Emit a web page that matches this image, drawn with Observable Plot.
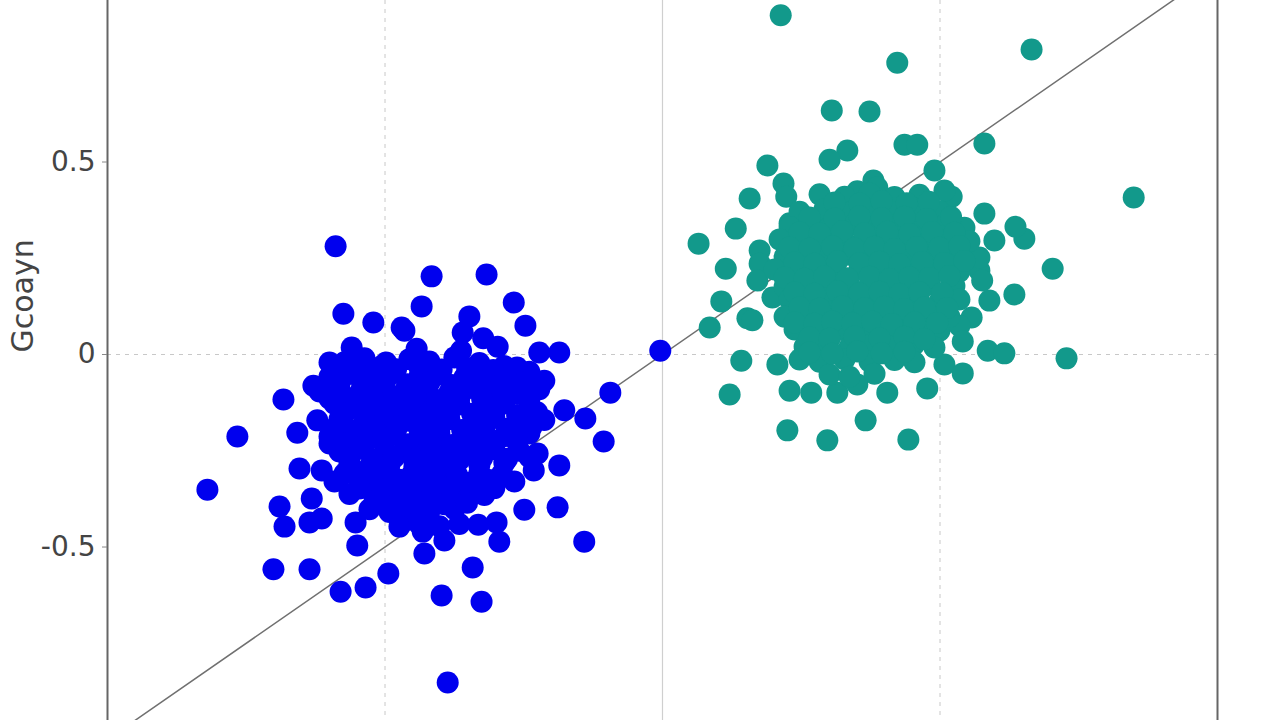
<!DOCTYPE html>
<html>
<head>
<meta charset="utf-8">
<script src="https://cdn.jsdelivr.net/npm/d3@7"></script>
<script src="https://cdn.jsdelivr.net/npm/@observablehq/plot@0.6"></script>
<style>
  html, body { margin: 0; padding: 0; background: #fff; }
  #chart { width: 1280px; height: 720px; overflow: hidden; }
</style>
</head>
<body>
<div id="chart"></div>
<script>
// y-axis ticks and label
const yTicks = [-0.5, 0, 0.5];
const yLabel = "Gcoayn";
const dashedX = [-0.5, 0.5];
const solidX = [0];
const dashedY = [0];
const frameX = [-1, 1];
const diagonal = [-1, 1];

// Group A (blue) points [x, y]
const groupA = [
  [-0.589,0.281],[-0.416,0.203],[-0.317,0.208],[-0.575,0.106],[-0.521,0.083],[-0.434,0.125],
  [-0.348,0.099],[-0.268,0.135],[-0.247,0.075],[-0.560,0.018],[-0.600,-0.021],[-0.465,0.062],
  [-0.360,0.057],[-0.323,0.042],[-0.297,0.020],[-0.222,0.005],[-0.186,0.005],[-0.094,-0.099],
  [-0.004,0.010],[-0.766,-0.213],[-0.820,-0.351],[-0.683,-0.117],[-0.658,-0.203],[-0.629,-0.081],
  [-0.654,-0.296],[-0.614,-0.301],[-0.690,-0.395],[-0.681,-0.447],[-0.636,-0.436],[-0.614,-0.426],
  [-0.550,-0.496],[-0.701,-0.558],[-0.636,-0.558],[-0.494,-0.569],[-0.580,-0.616],[-0.535,-0.605],
  [-0.398,-0.626],[-0.387,-0.852],[-0.326,-0.642],[-0.342,-0.553],[-0.294,-0.486],[-0.141,-0.486],
  [-0.189,-0.397],[-0.249,-0.403],[-0.186,-0.288],[-0.232,-0.301],[-0.139,-0.166],[-0.106,-0.226],
  [-0.177,-0.145],[-0.213,-0.068],[-0.265,-0.068],[-0.263,-0.203],[-0.299,-0.436],[-0.332,-0.442],
  [-0.393,-0.483],[-0.432,-0.460],[-0.470,-0.434],[-0.553,-0.436],[-0.600,-0.231],[-0.560,-0.197],
  [-0.622,-0.171],[-0.429,-0.517],[-0.632,-0.374],[-0.225,-0.257],[-0.566,-0.050],[-0.524,-0.034],
  [-0.498,-0.021],[-0.470,0.070],[-0.363,0.010],[-0.443,0.015],
  // dense core
  [-0.573,-0.020],[-0.537,-0.010],[-0.501,-0.025],[-0.456,-0.012],[-0.420,-0.018],[-0.375,-0.008],[-0.330,-0.022],[-0.285,-0.030],
  [-0.600,-0.058],[-0.564,-0.050],[-0.519,-0.062],[-0.483,-0.048],[-0.438,-0.057],[-0.402,-0.052],[-0.357,-0.060],[-0.312,-0.049],[-0.267,-0.058],[-0.240,-0.045],
  [-0.618,-0.096],[-0.582,-0.090],[-0.546,-0.101],[-0.501,-0.088],[-0.465,-0.097],[-0.429,-0.092],[-0.384,-0.099],[-0.348,-0.087],[-0.303,-0.095],[-0.258,-0.102],[-0.222,-0.090],
  [-0.591,-0.128],[-0.555,-0.137],[-0.519,-0.129],[-0.474,-0.134],[-0.438,-0.126],[-0.402,-0.139],[-0.366,-0.130],[-0.321,-0.135],[-0.285,-0.127],[-0.240,-0.138],
  [-0.582,-0.168],[-0.537,-0.175],[-0.501,-0.166],[-0.456,-0.172],[-0.420,-0.179],[-0.384,-0.168],[-0.339,-0.174],[-0.303,-0.165],[-0.258,-0.177],[-0.213,-0.170],
  [-0.600,-0.213],[-0.555,-0.206],[-0.519,-0.215],[-0.483,-0.208],[-0.438,-0.211],[-0.402,-0.204],[-0.357,-0.216],[-0.321,-0.207],[-0.285,-0.212],[-0.240,-0.205],
  [-0.582,-0.252],[-0.546,-0.245],[-0.501,-0.255],[-0.465,-0.247],[-0.429,-0.251],[-0.384,-0.243],[-0.348,-0.254],[-0.303,-0.246],[-0.258,-0.250],
  [-0.564,-0.284],[-0.528,-0.292],[-0.492,-0.286],[-0.447,-0.290],[-0.411,-0.283],[-0.375,-0.293],[-0.330,-0.287],[-0.285,-0.281],
  [-0.591,-0.330],[-0.546,-0.322],[-0.510,-0.331],[-0.474,-0.325],[-0.429,-0.329],[-0.393,-0.321],[-0.348,-0.333],[-0.312,-0.326],[-0.267,-0.330],
  [-0.564,-0.362],[-0.519,-0.370],[-0.483,-0.364],[-0.447,-0.368],[-0.402,-0.361],[-0.366,-0.371],[-0.321,-0.365],
  [-0.528,-0.402],[-0.492,-0.409],[-0.456,-0.404],[-0.420,-0.407],[-0.375,-0.401],
  [-0.474,-0.447],[-0.438,-0.441],[-0.402,-0.446],[-0.366,-0.440],
  // interleaved core
  [-0.555,-0.036],[-0.480,-0.038],[-0.438,-0.033],[-0.398,-0.039],[-0.352,-0.035],[-0.305,-0.040],[-0.262,-0.034],
  [-0.582,-0.075],[-0.541,-0.078],[-0.500,-0.072],[-0.460,-0.077],[-0.420,-0.073],[-0.380,-0.079],[-0.335,-0.074],[-0.290,-0.076],[-0.250,-0.072],
  [-0.600,-0.114],[-0.564,-0.117],[-0.523,-0.111],[-0.483,-0.116],[-0.447,-0.112],[-0.406,-0.118],[-0.366,-0.113],[-0.325,-0.115],[-0.280,-0.110],[-0.240,-0.117],
  [-0.573,-0.153],[-0.537,-0.150],[-0.496,-0.156],[-0.456,-0.151],[-0.420,-0.155],[-0.384,-0.149],[-0.343,-0.154],[-0.303,-0.152],[-0.262,-0.157],[-0.226,-0.150],
  [-0.591,-0.192],[-0.519,-0.195],[-0.478,-0.189],[-0.438,-0.194],[-0.402,-0.190],[-0.361,-0.196],[-0.321,-0.191],[-0.280,-0.193],[-0.236,-0.188],
  [-0.573,-0.231],[-0.537,-0.234],[-0.501,-0.228],[-0.460,-0.233],[-0.420,-0.229],[-0.379,-0.235],[-0.339,-0.230],[-0.303,-0.232],[-0.262,-0.227],
  [-0.564,-0.270],[-0.523,-0.273],[-0.483,-0.267],[-0.447,-0.272],[-0.406,-0.268],[-0.366,-0.274],[-0.325,-0.269],[-0.280,-0.271],[-0.240,-0.266],
  [-0.573,-0.309],[-0.528,-0.312],[-0.492,-0.306],[-0.451,-0.311],[-0.411,-0.307],[-0.370,-0.313],[-0.330,-0.308],[-0.289,-0.310],
  [-0.546,-0.348],[-0.505,-0.351],[-0.465,-0.345],[-0.424,-0.350],[-0.384,-0.346],[-0.343,-0.352],[-0.303,-0.347],
  [-0.505,-0.387],[-0.465,-0.390],[-0.429,-0.384],[-0.393,-0.389],[-0.352,-0.385]
];

// Group B (teal) points [x, y]
const groupB = [
  [0.213,0.881],[0.423,0.758],[0.665,0.792],[0.305,0.634],[0.373,0.631],[0.436,0.545],[0.459,0.545],
  [0.580,0.548],[0.333,0.530],[0.301,0.506],[0.189,0.491],[0.849,0.408],[0.157,0.405],[0.218,0.444],
  [0.223,0.410],[0.490,0.478],[0.065,0.288],[0.132,0.327],[0.114,0.223],[0.175,0.270],[0.106,0.138],
  [0.153,0.094],[0.085,0.070],[0.142,-0.016],[0.121,-0.104],[0.225,-0.197],[0.297,-0.223],[0.366,-0.171],
  [0.443,-0.221],[0.207,-0.026],[0.229,-0.094],[0.268,-0.099],[0.315,-0.099],[0.351,-0.078],[0.405,-0.099],
  [0.477,-0.088],[0.508,-0.026],[0.541,-0.049],[0.586,0.010],[0.616,0.003],[0.728,-0.010],[0.703,0.223],
  [0.634,0.156],[0.652,0.301],[0.636,0.332],[0.580,0.366],[0.598,0.296],[0.571,0.218],[0.589,0.140],
  [0.557,0.096],[0.499,0.062],[0.535,0.075],[0.571,0.252],[0.576,0.192],[0.541,0.034],[0.490,0.366],
  [0.521,0.410],[0.508,0.426],[0.351,0.424],[0.380,0.452],[0.387,0.434],[0.289,0.341],[0.229,0.341],
  [0.175,0.236],[0.171,0.192],[0.198,0.148],[0.162,0.089],
  // dense core
  [0.283,0.416],[0.328,0.410],[0.373,0.418],[0.418,0.409],[0.463,0.415],
  [0.247,0.371],[0.292,0.378],[0.337,0.369],[0.373,0.376],[0.418,0.370],[0.454,0.379],[0.499,0.372],
  [0.229,0.331],[0.265,0.338],[0.301,0.330],[0.346,0.337],[0.382,0.332],[0.427,0.339],[0.463,0.330],[0.508,0.336],[0.544,0.329],
  [0.211,0.299],[0.247,0.292],[0.283,0.300],[0.328,0.294],[0.364,0.298],[0.400,0.291],[0.436,0.299],[0.481,0.293],[0.517,0.301],[0.553,0.294],
  [0.220,0.254],[0.256,0.260],[0.292,0.253],[0.337,0.259],[0.373,0.255],[0.409,0.261],[0.445,0.252],[0.490,0.258],[0.526,0.255],
  [0.202,0.221],[0.238,0.214],[0.274,0.220],[0.310,0.216],[0.355,0.222],[0.391,0.213],[0.427,0.219],[0.463,0.215],[0.499,0.221],[0.535,0.216],
  [0.220,0.176],[0.256,0.182],[0.292,0.175],[0.337,0.180],[0.373,0.177],[0.409,0.183],[0.445,0.174],[0.481,0.181],[0.526,0.178],
  [0.229,0.143],[0.265,0.136],[0.301,0.142],[0.346,0.138],[0.382,0.144],[0.418,0.135],[0.454,0.141],[0.499,0.137],[0.535,0.143],
  [0.220,0.098],[0.256,0.104],[0.292,0.097],[0.328,0.103],[0.364,0.099],[0.409,0.105],[0.445,0.096],[0.481,0.102],[0.517,0.098],
  [0.238,0.065],[0.274,0.058],[0.319,0.064],[0.355,0.060],[0.391,0.066],[0.427,0.057],[0.463,0.063],
  [0.256,0.020],[0.292,0.026],[0.337,0.019],[0.373,0.025],[0.409,0.021],[0.454,0.027],[0.490,0.018],
  [0.247,-0.013],[0.283,-0.019],[0.328,-0.012],[0.373,-0.018],[0.418,-0.014],[0.454,-0.020],
  [0.301,-0.052],[0.337,-0.058],[0.382,-0.050],
  // interleaved core
  [0.310,0.395],[0.355,0.392],[0.395,0.398],[0.440,0.393],[0.480,0.397],
  [0.265,0.356],[0.310,0.353],[0.355,0.359],[0.395,0.354],[0.436,0.358],[0.476,0.352],[0.520,0.357],
  [0.247,0.317],[0.283,0.314],[0.324,0.320],[0.364,0.315],[0.405,0.319],[0.445,0.313],[0.486,0.318],[0.526,0.316],
  [0.229,0.278],[0.265,0.275],[0.306,0.281],[0.346,0.276],[0.382,0.280],[0.418,0.274],[0.458,0.279],[0.499,0.277],[0.535,0.282],
  [0.238,0.239],[0.274,0.236],[0.315,0.242],[0.355,0.237],[0.391,0.241],[0.427,0.235],[0.468,0.240],[0.508,0.238],[0.544,0.243],
  [0.220,0.200],[0.256,0.197],[0.292,0.203],[0.333,0.198],[0.373,0.202],[0.409,0.196],[0.445,0.201],[0.481,0.199],[0.517,0.204],
  [0.238,0.161],[0.274,0.158],[0.315,0.164],[0.355,0.159],[0.391,0.163],[0.427,0.157],[0.463,0.162],[0.504,0.160],
  [0.247,0.122],[0.283,0.119],[0.324,0.125],[0.364,0.120],[0.400,0.124],[0.436,0.118],[0.472,0.123],[0.513,0.121],
  [0.238,0.083],[0.274,0.080],[0.306,0.086],[0.342,0.081],[0.378,0.085],[0.413,0.079],[0.454,0.084],[0.495,0.082],
  [0.265,0.044],[0.301,0.041],[0.346,0.047],[0.391,0.042],[0.436,0.046],[0.472,0.040],
  [0.265,0.005],[0.306,0.002],[0.351,0.008],[0.395,0.003],[0.436,0.007]
];

const chart = Plot.plot({
  width: 1280,
  height: 720,
  marginLeft: 107,
  marginRight: 63,
  marginTop: 0,
  marginBottom: 0,
  style: { fontFamily: "DejaVu Sans, sans-serif", background: "#fff", overflow: "visible" },
  x: { domain: [-1, 1], axis: null },
  y: { domain: [-0.9506, 0.9195] },
  marks: [
    Plot.ruleX(dashedX, { stroke: "#c8c8c8", strokeWidth: 1, strokeDasharray: "4,5" }),
    Plot.ruleY(dashedY, { stroke: "#c8c8c8", strokeWidth: 1, strokeDasharray: "4,5" }),
    Plot.ruleX(solidX, { stroke: "#cfcfcf", strokeWidth: 1.2 }),
    Plot.line(diagonal, { x: d => d, y: d => d, stroke: "#707070", strokeWidth: 1.5, clip: true }),
    Plot.dot(groupA, { x: d => d[0], y: d => d[1], r: 11, fill: "#0000ee", stroke: "none" }),
    Plot.dot(groupB, { x: d => d[0], y: d => d[1], r: 11, fill: "#12998b", stroke: "none" }),
    Plot.ruleX(frameX, { stroke: "#666", strokeWidth: 2 }),
    Plot.axisY({ ticks: yTicks, tickFormat: d => String(d), tickSize: 5, tickPadding: 7,
      fontSize: 28, color: "#444", stroke: "#888", label: null }),
    Plot.text([yLabel], { frameAnchor: "left", dx: -84, dy: -8, rotate: -90, fontSize: 30, fill: "#444" })
  ]
});
document.getElementById("chart").appendChild(chart);
</script>
</body>
</html>
